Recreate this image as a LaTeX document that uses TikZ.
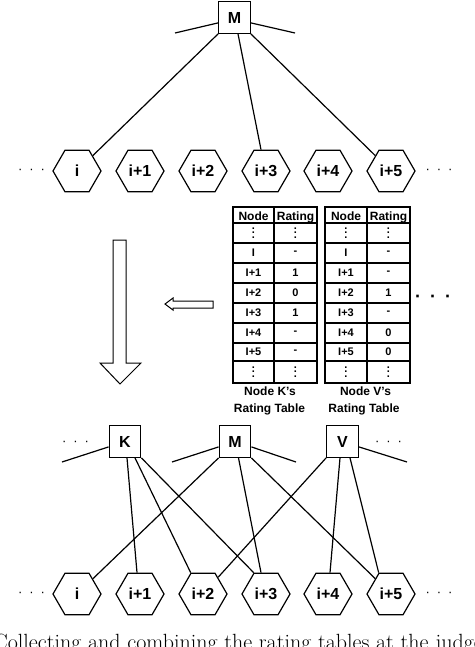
\documentclass[tikz,border=0pt]{standalone}
\usepackage{fontspec}
\newfontfamily\hv{Liberation Sans}
\usetikzlibrary{shapes.geometric,calc}
\newcommand\tabdots{\vbox{\baselineskip=4.2pt\lineskiplimit=0pt\hbox{.}\hbox{.}\hbox{.}}}
\begin{document}
\begin{tikzpicture}[x=1pt,y=-1pt,
  hexnode/.style={regular polygon, regular polygon sides=6, minimum size=48pt, inner sep=0pt, draw, line width=1.2pt, font=\hv\bfseries\fontsize{16}{16}\selectfont},
  boxnode/.style={draw, line width=1.3pt, minimum size=31.5pt, inner sep=0pt, font=\hv\bfseries\fontsize{16}{16}\selectfont},
  link/.style={line width=1.2pt},
  dotsnode/.style={font=\hv\fontsize{13}{13}\selectfont, inner sep=0pt},
  bigdots/.style={font=\hv\bfseries\fontsize{18}{18}\selectfont, inner sep=0pt},
  cell/.style={font=\hv\bfseries\fontsize{11}{11}\selectfont, inner sep=0pt},
  headcell/.style={font=\hv\bfseries\fontsize{12}{12}\selectfont, inner sep=0pt, anchor=base},
  tabcap/.style={font=\hv\bfseries\fontsize{12}{12}\selectfont, inner sep=0pt, anchor=base},
  tabouter/.style={line width=1.8pt},
  tabinner/.style={line width=1.1pt},
  blockarrow/.style={line width=1pt, line join=miter}
]
\useasboundingbox (0,0) rectangle (474,647);
\fill[white] (0,0) rectangle (474,647);

% ---------- top part ----------
\node[boxnode] (mt) at (234.5,17.5) {M};
\foreach \x/\t [count=\i] in {77/i,140/i+1,203/i+2,266/i+3,328/i+4,391/i+5}
  \node[hexnode] (t\i) at (\x,171) {\t};
\node[dotsnode] (tdl) at (31.5,171) {·\hspace{7pt}·\hspace{7pt}·};
\node[dotsnode] (tdr) at (439,171) {·\hspace{7pt}·\hspace{7pt}·};

\coordinate (mtl) at (175,33);
\coordinate (mtr) at (295,33);
\draw[link] ($(mt.south west)+(0,-11)$) -- (mtl);
\draw[link] ($(mt.south east)+(0,-11)$) -- (mtr);
\draw[link] (mt.south west) -- (t1);
\draw[link] ([xshift=3.5pt]mt.south) -- ([xshift=-5pt]t4.north);
\draw[link] (mt.south east) -- (t6);

% ---------- tables ----------
\foreach \xa/\xm/\xb in {233/274/317, 325/367/410}{
  \draw[tabouter] (\xa,207) rectangle (\xb,383);
  \draw[tabinner] (\xm,207) -- (\xm,383);
  \draw[line width=1.5pt] (\xa,223) -- (\xb,223);
  \foreach \y in {243,263,283,303,323,343,361}
    \draw[tabinner] (\xa,\y) -- (\xb,\y);
}
\node[headcell] (kh1) at (253.5,220) {Node};
\node[headcell] (kh2) at (295.5,220) {Rating};
\node[headcell] (vh1) at (346,220) {Node};
\node[headcell] (vh2) at (388.5,220) {Rating};
\foreach \y/\a/\b/\c [count=\i] in {233/{\tabdots}/{\tabdots}/{\tabdots}, 253/I/-/-, 273/I+1/1/-, 293/I+2/0/1, 313/I+3/1/-, 333/I+4/-/0, 352/I+5/-/0, 372/{\tabdots}/{\tabdots}/{\tabdots}}{
  \node[cell] (kn\i) at (253.5,\y) {\a};
  \node[cell] (kr\i) at (295.5,\y) {\b};
  \node[cell] (vn\i) at (346,\y) {\a};
  \node[cell] (vr\i) at (388.5,\y) {\c};
}
\node[tabcap] (kc1) at (270,395.5) {Node K’s};
\node[tabcap] (kc2) at (269.5,412) {Rating Table};
\node[tabcap] (vc1) at (365.5,395.5) {Node V’s};
\node[tabcap] (vc2) at (364,412) {Rating Table};
\node[bigdots] (tabd) at (433,299) {·\hspace{9pt}·\hspace{9pt}·};

% ---------- block arrows ----------
\draw[blockarrow] (113,240) -- (126,240) -- (126,363) -- (141,363) -- (120,384) -- (100,363) -- (113,363) -- cycle;
\draw[blockarrow] (213,301) -- (173,301) -- (173,298) -- (165,304) -- (173,310) -- (173,308) -- (213,308) -- cycle;

% ---------- bottom part ----------
\node[boxnode] (bk) at (125,441.5) {K};
\node[boxnode] (bm) at (235,441.5) {M};
\node[boxnode] (bv) at (342.5,441.5) {V};
\foreach \x/\t [count=\i] in {77/i,140/i+1,203/i+2,266/i+3,328/i+4,391/i+5}
  \node[hexnode] (b\i) at (\x,594) {\t};
\node[dotsnode] (bdl) at (31.5,594) {·\hspace{7pt}·\hspace{7pt}·};
\node[dotsnode] (bdr) at (439,594) {·\hspace{7pt}·\hspace{7pt}·};
\node[dotsnode] (kdl) at (75.5,443) {·\hspace{7pt}·\hspace{7pt}·};
\node[dotsnode] (vdr) at (388.5,443) {·\hspace{7pt}·\hspace{7pt}·};

\coordinate (bkl) at (62,462);
\coordinate (bml) at (172,462);
\coordinate (bmr) at (296,462);
\coordinate (bvr) at (407,462);
\draw[link] ($(bk.south west)+(0,-11)$) -- (bkl);
\draw[link] ($(bm.south west)+(0,-11)$) -- (bml);
\draw[link] ($(bm.south east)+(0,-11)$) -- (bmr);
\draw[link] ($(bv.south east)+(0,-11)$) -- (bvr);

\draw[link] ([xshift=2pt]bk.south) -- ([xshift=-3pt]b2.north);
\draw[link] ([xshift=10pt]bk.south) -- (b3.120);
\draw[link] (bk.south east) -- (b4.120);
\draw[link] (bm.south west) -- (b1);
\draw[link] ([xshift=3.5pt]bm.south) -- ([xshift=-5pt]b4.north);
\draw[link] (bm.south east) -- (b6);
\draw[link] (bv.south west) -- (b3);
\draw[link] ([xshift=-2.5pt]bv.south) -- ([xshift=2pt]b5.north);
\draw[link] ([xshift=7.5pt]bv.south) -- (b6.120);

% ---------- caption (cut by the page) ----------
\node[anchor=base west, inner sep=0pt, font=\fontsize{22}{22}\selectfont] (cap) at (-7,649) {Collecting and combining the rating tables at the judge};
\end{tikzpicture}
\end{document}
